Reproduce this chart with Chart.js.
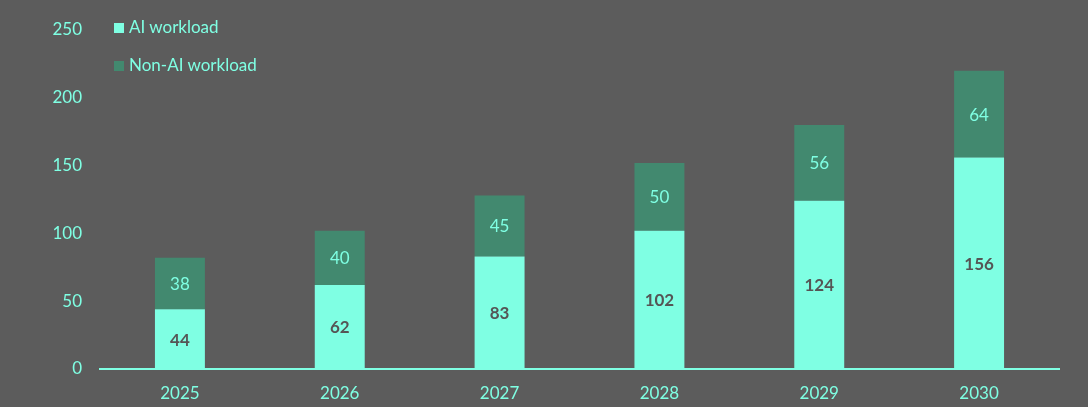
<!DOCTYPE html>
<html>
<head>
<meta charset="utf-8">
<script src="https://cdn.jsdelivr.net/npm/chart.js@4"></script>
<style>
  html, body { margin: 0; padding: 0; background: #5c5c5c; }
  #wrap { position: relative; width: 1088px; height: 407px; }
  .legend { position: absolute; left: 114px; font-family: Lato, sans-serif; font-size: 17px; color: #7fffe3; line-height: 20px; }
  .legend span.box { display: inline-block; width: 10px; height: 10px; margin-right: 5px; vertical-align: 0px; }
</style>
</head>
<body>
<div id="wrap">
  <canvas id="chart" width="1088" height="407"></canvas>
  <div class="legend" style="top:17px"><span class="box" style="background:#7fffe3"></span>AI workload</div>
  <div class="legend" style="top:55px"><span class="box" style="background:#42896f"></span>Non-AI workload</div>
</div>
<script>
const years      = ["2025", "2026", "2027", "2028", "2029", "2030"];
const aiLoad     = [44, 62, 83, 102, 124, 156];
const nonAiLoad  = [38, 40, 45, 50, 56, 64];
const yTicks     = [0, 50, 100, 150, 200, 250];

const AQUA = "#7fffe3";
const GREEN = "#42896f";

// draw the value inside each segment
const segmentLabels = {
  id: "segmentLabels",
  afterDatasetsDraw(chart) {
    const ctx = chart.ctx;
    ctx.save();
    ctx.textAlign = "center";
    ctx.textBaseline = "middle";
    chart.data.datasets.forEach((ds, di) => {
      const meta = chart.getDatasetMeta(di);
      meta.data.forEach((bar, i) => {
        const mid = (bar.y + bar.base) / 2;
        ctx.fillStyle = di === 0 ? "#555555" : AQUA;
        ctx.font = (di === 0 ? "bold " : "") + "17px Lato, sans-serif";
        ctx.fillText(String(ds.data[i]), bar.x, mid + 1);
      });
    });
    ctx.restore();
  }
};

new Chart(document.getElementById("chart"), {
  type: "bar",
  data: {
    labels: years,
    datasets: [
      { label: "AI workload", data: aiLoad, backgroundColor: AQUA,
        categoryPercentage: 1, barPercentage: 0.3125 },
      { label: "Non-AI workload", data: nonAiLoad, backgroundColor: GREEN,
        categoryPercentage: 1, barPercentage: 0.3125 }
    ]
  },
  options: {
    responsive: false,
    animation: false,
    layout: { padding: { top: 30, right: 29, left: 0, bottom: 0 } },
    plugins: { legend: { display: false }, tooltip: { enabled: false } },
    scales: {
      x: {
        stacked: true,
        grid: { display: false, drawTicks: false },
        border: { display: true, color: AQUA, width: 2 },
        ticks: { color: AQUA, font: { family: "Lato", size: 17 }, padding: 14 },
        afterFit: s => { s.height = 38; }
      },
      y: {
        stacked: true,
        min: 0, max: 250,
        afterBuildTicks: s => { s.ticks = yTicks.map(v => ({ value: v })); },
        grid: { display: false, drawTicks: false },
        border: { display: false },
        ticks: { color: AQUA, font: { family: "Lato", size: 17 }, padding: 18 },
        afterFit: s => { s.width = 100; }
      }
    }
  },
  plugins: [segmentLabels]
});
</script>
</body>
</html>
